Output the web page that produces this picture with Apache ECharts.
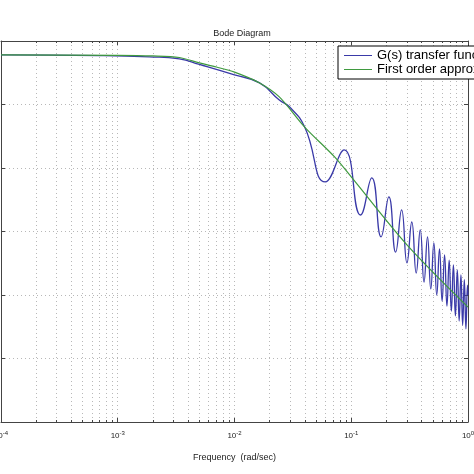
<!DOCTYPE html>
<html><head><meta charset="utf-8">
<script src="https://cdn.jsdelivr.net/npm/echarts@6/dist/echarts.min.js"></script>
<style>html,body{margin:0;padding:0;background:#fff}#c{width:474px;height:474px}</style>
</head><body><div id="c"></div>
<script>
const seriesNames = ['G(s) transfer function', 'First order approximation'];
const blueData = [
 [1e-4,15.6],[6.93e-4,15.4],[1.86e-3,15.0],[3.37e-3,14.4],[5.0e-3,12.6],[0.01,9.3],[0.0164,6.8],[0.0242,1.4],[0.0297,-0.8],[0.0399,-7.1],
 [0.06,-24.4],[0.087,-14.3],[0.12,-34.8],[0.15,-23.1],[0.18,-41.7],[0.21,-29.1],[0.24,-46.5],[0.27,-33.2],
 [0.30,-49.9],[0.33,-37.0],[0.36,-53.1],[0.39,-39.5],[0.42,-55.9],[0.45,-41.7],[0.48,-58.1],[0.51,-43.6],
 [0.54,-60.0],[0.57,-45.5],[0.60,-61.9],[0.63,-47.4],[0.66,-63.5],[0.69,-49.0],[0.72,-65.1],[0.75,-50.5],
 [0.78,-66.6],[0.81,-52.1],[0.84,-68.2],[0.87,-53.7],[0.90,-69.5],[0.93,-55.2],[0.96,-70.7],[0.99,-56.9],[1.0,-60]
];
const greenData = [
 [1e-4,15.6],[1e-3,15.5],[2e-3,15.3],[3.37e-3,14.8],[5.0e-3,13.1],[7e-3,11.8],[0.01,10.2],[0.0164,6.8],[0.0242,2.4],[0.0399,-7.1],[0.072,-16.5],
 [0.1,-22.8],[0.3,-44.2],[1.0,-63.8]
];
const xTickLabels = {'0.0001':'-4','0.001':'-3','0.01':'-2','0.1':'-1','1':'0'};

const dotted = {show:true,lineStyle:{color:'#b8b8b8',type:[1,3],width:1}};
const chart = echarts.init(document.getElementById('c'));
chart.setOption({
 animation:false,
 title:{text:'Bode Diagram',left:237,top:24,textAlign:'center',textStyle:{fontSize:9,fontWeight:'normal',color:'#222',fontFamily:'Liberation Sans'}},
 grid:{left:1,right:6,top:41,bottom:52,containLabel:false,outerBoundsMode:'none'},
 legend:{orient:'vertical',left:338,top:46,itemWidth:28,itemHeight:10,itemGap:1,padding:[3,6,3,6],
   backgroundColor:'#fff',borderColor:'#000',borderWidth:1,borderRadius:0,
   textStyle:{fontSize:13,color:'#000',fontFamily:'Liberation Sans'},icon:'path://M0,5L28,5L28,6L0,6Z',
   data:seriesNames},
 xAxis:[{type:'log',logBase:10,min:1e-4,max:1,
   axisLine:{show:true,onZero:false,lineStyle:{color:'#444'}},
   axisTick:{show:true,inside:true,length:4,lineStyle:{color:'#444'}},
   minorTick:{show:true,splitNumber:9,length:2},
   splitLine:dotted,minorSplitLine:dotted,
   axisLabel:{color:'#222',fontSize:8,fontFamily:'Liberation Sans',margin:8,
     formatter:v=>{const k=xTickLabels[String(+v.toPrecision(3))];return k===undefined?'':'10{s|'+k+'}';},
     rich:{s:{fontSize:6,verticalAlign:'top',padding:[0,0,6,0]}}},
   name:'Frequency  (rad/sec)',nameLocation:'middle',nameGap:31,
   nameTextStyle:{fontSize:9,color:'#222',fontFamily:'Liberation Sans'}},
  {type:'log',logBase:10,min:1e-4,max:1,position:'top',axisLine:{show:true,onZero:false,lineStyle:{color:'#444'}},
   axisTick:{show:true,inside:true,length:4},minorTick:{show:true,splitNumber:9,length:2},axisLabel:{show:false},splitLine:{show:false}}],
 yAxis:[{type:'value',min:-100,max:20,interval:20,
   axisLine:{show:true,onZero:false,lineStyle:{color:'#444'}},axisTick:{show:true,inside:true,length:4},
   axisLabel:{show:false},splitLine:dotted},
  {type:'value',min:-100,max:20,interval:20,position:'right',axisLine:{show:true,onZero:false,lineStyle:{color:'#444'}},
   axisTick:{show:true,inside:true,length:4},axisLabel:{show:false},splitLine:{show:false}}],
 series:[
  {name:seriesNames[0],type:'line',data:blueData,smooth:0.5,showSymbol:false,lineStyle:{color:'#3a3aa8',width:1.3},itemStyle:{color:'#3a3aa8'}},
  {name:seriesNames[1],type:'line',data:greenData,smooth:0.3,showSymbol:false,lineStyle:{color:'#3f9a3f',width:1.2},itemStyle:{color:'#3f9a3f'}}
 ]
});
</script></body></html>
